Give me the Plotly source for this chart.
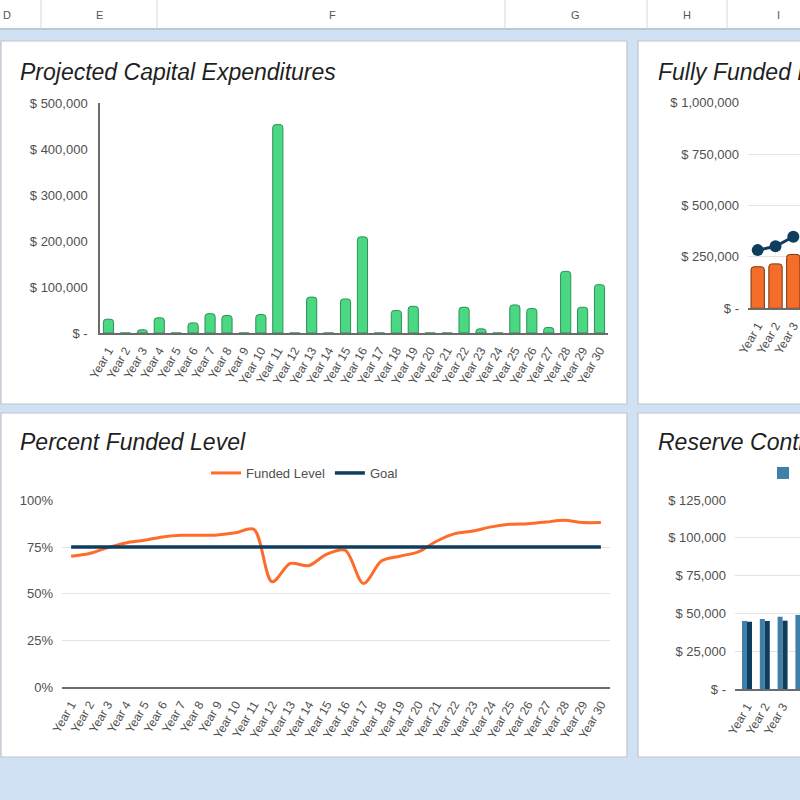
import plotly.graph_objects as go

# ---------------- data ----------------
years = [f"Year {i}" for i in range(1, 31)]

capex = [30000, 0, 7000, 33000, 0, 22000, 42000, 38000, 0, 40000,
         453000, 0, 78000, 0, 74000, 209000, 0, 49000, 58000, 0,
         0, 56000, 9000, 0, 61000, 53000, 12000, 134000, 56000, 105000]
capex_ticks = [0, 100000, 200000, 300000, 400000, 500000]
capex_ticktext = ["$ -", "$ 100,000", "$ 200,000", "$ 300,000", "$ 400,000", "$ 500,000"]

ff_years = ["Year 1", "Year 2", "Year 3"]
reserve_balance = [202000, 216000, 262000]
fully_funded_balance = [283000, 302000, 348000]
ff_ticks = [0, 250000, 500000, 750000, 1000000]
ff_ticktext = ["$ -", "$ 250,000", "$ 500,000", "$ 750,000", "$ 1,000,000"]

funded_level = [0.701, 0.715, 0.747, 0.772, 0.786, 0.804, 0.813, 0.813, 0.815, 0.826,
                0.845, 0.564, 0.662, 0.650, 0.712, 0.733, 0.555, 0.676, 0.701, 0.724,
                0.781, 0.822, 0.836, 0.858, 0.872, 0.875, 0.884, 0.893, 0.881, 0.881]
goal = [0.75] * 30
pct_ticks = [0, 0.25, 0.5, 0.75, 1.0]
pct_ticktext = ["0%", "25%", "50%", "75%", "100%"]

rc_years_a = ["Year 1", "Year 2", "Year 3", "Year 4"]
contrib_recommended = [45000, 46300, 47800, 49000]
rc_years_b = ["Year 1", "Year 2", "Year 3"]
contrib_current = [44500, 45000, 45200]
rc_ticks = [0, 25000, 50000, 75000, 100000, 125000]
rc_ticktext = ["$ -", "$ 25,000", "$ 50,000", "$ 75,000", "$ 100,000", "$ 125,000"]

header_letters = ["D", "E", "F", "G", "H", "I"]

# ---------------- helpers ----------------
W = H = 800
def X(px):
    return px / W
def Y(py):
    return 1 - py / H

FONT = "Liberation Sans, Arial, sans-serif"
TICK_COLOR = "#4f4f4f"
GREEN = "#4bd882"
ORANGE = "#f46d2a"
NAVY = "#0f3d5e"
STEEL = "#3f7fa8"

fig = go.Figure()

# Chart 1: Projected Capital Expenditures
fig.add_trace(go.Bar(x=years, y=capex, xaxis="x", yaxis="y", width=0.6,
                     marker=dict(color=GREEN, line=dict(color="#2f8f56", width=1), cornerradius=3),
                     showlegend=False, name="Capital Expenditures"))

# Chart 2: Fully Funded Balance
fig.add_trace(go.Bar(x=ff_years, y=reserve_balance, xaxis="x2", yaxis="y2", width=0.75,
                     marker=dict(color=ORANGE, line=dict(color="#7a3510", width=1), cornerradius=3),
                     showlegend=False, name="Reserve Balance"))
fig.add_trace(go.Scatter(x=ff_years, y=fully_funded_balance, xaxis="x2", yaxis="y2",
                         mode="lines+markers", line=dict(color=NAVY, width=3),
                         marker=dict(color=NAVY, size=12), showlegend=False,
                         name="Fully Funded Balance"))

# Chart 3: Percent Funded Level
fig.add_trace(go.Scatter(x=years, y=funded_level, xaxis="x3", yaxis="y3", mode="lines",
                         line=dict(color="#ff6b2b", width=3, shape="spline", smoothing=0.9),
                         name="Funded Level", legend="legend"))
fig.add_trace(go.Scatter(x=years, y=goal, xaxis="x3", yaxis="y3", mode="lines",
                         line=dict(color=NAVY, width=3.5), name="Goal", legend="legend"))

# Chart 4: Reserve Contributions
fig.add_trace(go.Bar(x=rc_years_a, y=contrib_recommended, xaxis="x4", yaxis="y4",
                     width=0.28, offset=-0.28, marker=dict(color=STEEL, line=dict(width=0)),
                     name="Recommended Contribution", legend="legend2"))
fig.add_trace(go.Bar(x=rc_years_b, y=contrib_current, xaxis="x4", yaxis="y4",
                     width=0.28, offset=0.0, marker=dict(color=NAVY, line=dict(width=0)),
                     name="Current Contribution", legend="legend2"))

tickfont = dict(family=FONT, size=13, color=TICK_COLOR)
xtickfont = dict(family=FONT, size=12, color=TICK_COLOR)

common_x = dict(type="category", tickangle=-60, showgrid=False, ticks="", zeroline=False,
                tickfont=xtickfont, showline=True, linecolor="#6b6b6b", linewidth=1.5,
                fixedrange=True, ticklabelstandoff=4)
common_y = dict(ticks="", zeroline=False, tickfont=tickfont, ticklabelstandoff=8,
                fixedrange=True)

shapes = []
# spreadsheet header row
shapes.append(dict(type="rect", xref="paper", yref="paper", x0=0, x1=1, y0=Y(29), y1=1,
                   fillcolor="#ffffff", line=dict(width=0), layer="below"))
shapes.append(dict(type="line", xref="paper", yref="paper", x0=0, x1=1, y0=Y(29), y1=Y(29),
                   line=dict(color="#b9c9d9", width=2), layer="below"))
for cx in [41, 157, 505, 647, 727]:
    shapes.append(dict(type="line", xref="paper", yref="paper", x0=X(cx), x1=X(cx),
                       y0=Y(29), y1=1, line=dict(color="#d6d6d6", width=1), layer="below"))
# panels
for (x0, y0, x1, y1) in [(1, 41, 627, 404), (638, 41, 802, 404),
                         (1, 413, 627, 757), (638, 413, 802, 757)]:
    shapes.append(dict(type="rect", xref="paper", yref="paper", x0=X(x0), x1=X(x1),
                       y0=Y(y1), y1=Y(y0), fillcolor="#ffffff",
                       line=dict(color="#bfc5cb", width=1.2), layer="below"))

annotations = []
for letter, lx in zip(header_letters, [7, 99, 332, 575, 687, 778]):
    annotations.append(dict(text=letter, x=X(lx), y=Y(15), xref="paper", yref="paper",
                            showarrow=False, xanchor="center", yanchor="middle",
                            font=dict(family=FONT, size=11, color="#555555")))
title_font = dict(family=FONT, size=23, color="#1f1f1f", style="italic")
for text, tx, ty in [("Projected Capital Expenditures", 18, 72),
                     ("Fully Funded Balance", 656, 72),
                     ("Percent Funded Level", 18, 442),
                     ("Reserve Contributions", 656, 442)]:
    annotations.append(dict(text=text, x=X(tx), y=Y(ty), xref="paper", yref="paper",
                            showarrow=False, xanchor="left", yanchor="middle", font=title_font))

fig.update_layout(
    width=W, height=H, template="none",
    margin=dict(l=0, r=0, t=0, b=0, pad=0, autoexpand=False),
    paper_bgcolor="#cfe1f3", plot_bgcolor="rgba(0,0,0,0)",
    font=dict(family=FONT, color=TICK_COLOR),
    barmode="group",
    xaxis=dict(common_x, domain=[X(100), X(608)], anchor="y", range=[-0.5, 29.5]),
    yaxis=dict(common_y, domain=[Y(333), Y(103)], anchor="x", range=[0, 500000],
               tickvals=capex_ticks, ticktext=capex_ticktext, showgrid=False,
               showline=True, linecolor="#6b6b6b", linewidth=1.5),
    xaxis2=dict(common_x, domain=[X(748), 1], anchor="y2", range=[-0.545, 2.376]),
    yaxis2=dict(common_y, domain=[Y(308.3), Y(102.7)], anchor="x2", range=[0, 1000000],
                tickvals=ff_ticks, ticktext=ff_ticktext, showgrid=True,
                gridcolor="#e3e3e3", showline=False),
    xaxis3=dict(common_x, domain=[X(62), X(610)], anchor="y3", range=[-0.5, 29.5]),
    yaxis3=dict(common_y, domain=[Y(687), Y(500)], anchor="x3", range=[0, 1.002],
                tickvals=pct_ticks, ticktext=pct_ticktext, showgrid=True,
                gridcolor="#e3e3e3", showline=False),
    xaxis4=dict(common_x, domain=[X(735), 1], anchor="y4", range=[-0.674, 2.978]),
    yaxis4=dict(common_y, domain=[Y(689), Y(500)], anchor="x4", range=[0, 125000],
                tickvals=rc_ticks, ticktext=rc_ticktext, showgrid=True,
                gridcolor="#e3e3e3", showline=False),
    legend=dict(orientation="h", x=X(206), y=Y(473), xanchor="left", yanchor="middle",
                bgcolor="rgba(0,0,0,0)", font=dict(family=FONT, size=13, color=TICK_COLOR),
                itemwidth=30),
    legend2=dict(orientation="h", x=X(763), y=Y(473), xanchor="left", yanchor="middle",
                 bgcolor="rgba(0,0,0,0)", font=dict(family=FONT, size=13, color=TICK_COLOR)),
    shapes=shapes,
    annotations=annotations,
)

fig.write_html("out.html", config={"displayModeBar": False},
               post_script="document.body.style.margin='0';document.body.style.overflow='hidden';")
